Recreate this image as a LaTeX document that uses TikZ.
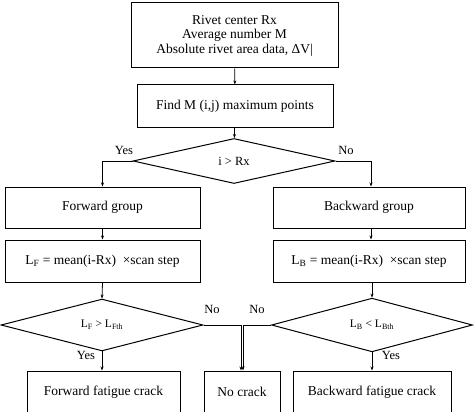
\documentclass[tikz,border=0pt]{standalone}
\usepackage{fontspec}
\setmainfont{Liberation Serif}
\usetikzlibrary{shapes.geometric,arrows.meta}

\begin{document}
\begin{tikzpicture}[x=1pt,y=-1pt,
   box/.style={draw,line width=1pt,inner sep=0pt,align=center,font=\fontsize{13.5}{14.5}\selectfont},
   test/.style={draw,diamond,line width=1pt,inner sep=0pt,font=\fontsize{12.5}{14}\selectfont},
   arr/.style={line width=0.8pt,-{Stealth[length=4pt,width=3pt]}},
   lbl/.style={font=\fontsize{12.5}{14}\selectfont}]
   \useasboundingbox (0,0) rectangle (474,412);
   \clip (0,0) rectangle (474,412);
   % top boxes
   \node[box,minimum width=207,minimum height=65] (info) at (234.5,35.5)
     {Rivet center Rx\\Average number M\\Absolute rivet area data, ΔV|};
   \node[box,minimum width=196,minimum height=42] (find) at (235,106) {Find M (i,j) maximum  points};
   \node[test,minimum width=202,minimum height=45] (side) at (234,161) {i > Rx};
   % forward and backward groups
   \node[box,minimum width=195,minimum height=41] (fwd) at (102.5,207.5) {Forward group};
   \node[box,minimum width=192,minimum height=41] (bwd) at (369,207.5) {Backward group};
   \node[box,minimum width=195,minimum height=42] (lf) at (102.5,261) {L\textsubscript{F} = mean(i-Rx) \ ×scan step};
   \node[box,minimum width=192,minimum height=42] (lb) at (369,261) {L\textsubscript{B} = mean(i-Rx) \ ×scan step};
   \node[test,minimum width=202,minimum height=45,font=\fontsize{11.5}{13}\selectfont] (testf) at (102,325)
     {L\textsubscript{F} > L\textsubscript{Fth}};
   \node[test,minimum width=201,minimum height=45,font=\fontsize{11.5}{13}\selectfont] (testb) at (372,325)
     {L\textsubscript{B} < L\textsubscript{Bth}};
   % results (cut by the bottom edge)
   \node[box,minimum width=153,minimum height=42] (fcrack) at (103.5,392) {Forward fatigue crack};
   \node[box,minimum width=76,minimum height=42] (none) at (242,392) {No crack};
   \node[box,minimum width=158,minimum height=42] (bcrack) at (372,392) {Backward fatigue crack};
   % labels
   \node[lbl] (yes1) at (124,150) {Yes};
   \node[lbl] (no1) at (346,150) {No};
   \node[lbl] (yes2) at (86,355) {Yes};
   \node[lbl] (yes3) at (391,355) {Yes};
   \node[lbl] (no2) at (212,309) {No};
   \node[lbl] (no3) at (257,309) {No};
   % connectors
   \draw[arr] (info) -- (find);
   \draw[arr] (find) -- (side);
   \draw[arr] (side.west) -| (fwd.north);
   \draw[arr] (side.east) -| ([xshift=2pt]bwd.north);
   \draw[arr] (fwd) -- (lf);
   \draw[arr] ([xshift=2pt]bwd.south) -- ([xshift=2pt]lb.north);
   \draw[arr] (lf.south) -- (testf.north);
   \draw[arr] (lb.south -| testb.north) -- (testb.north);
   \draw[arr] (testf.south) -- (testf.south |- fcrack.north);
   \draw[arr] (testb.south) -- (testb.south |- bcrack.north);
   \draw[arr] (testf.east) -| ([xshift=-1pt]none.north);
   \draw[arr] (testb.west) -| ([xshift=1pt]none.north);
\end{tikzpicture}
\end{document}
